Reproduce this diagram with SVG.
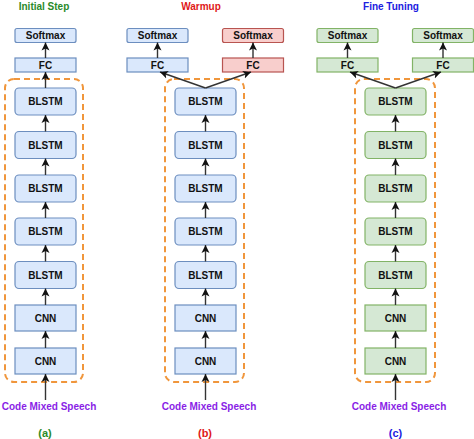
<svg xmlns="http://www.w3.org/2000/svg" width="474" height="439" viewBox="0 0 474 439">
<defs>
<marker id="ah" markerWidth="9" markerHeight="9" refX="8" refY="4.5" orient="auto" markerUnits="userSpaceOnUse">
<path d="M0,0.5 L8,4.5 L0,8.5 L2,4.5 Z" fill="#111"/>
</marker>
<style>
text{font-family:"Liberation Sans",Arial,sans-serif;font-weight:bold;text-anchor:middle}
.lbl{font-size:10px;fill:#111}
.b{fill:#dae8fc;stroke:#6c8ebf;stroke-width:1.2}
.r{fill:#f8cecc;stroke:#b85450;stroke-width:1.2}
.g{fill:#d5e8d4;stroke:#82b366;stroke-width:1.2}
.dash{fill:none;stroke:#f0963c;stroke-width:2;stroke-dasharray:6,4}
.c line{stroke:#333;stroke-width:1.4;marker-end:url(#ah)}
.t{font-size:10px}
</style>
</defs>
<rect width="474" height="439" fill="#fff"/>

<!-- titles -->
<text x="44" y="10" class="t" fill="#2a8a2a">Initial Step</text>
<text x="201" y="10" class="t" fill="#e01818">Warmup</text>
<text x="391" y="10" class="t" fill="#2020e0">Fine Tuning</text>

<!-- containers -->
<rect id="container-a" class="dash" x="5" y="79" width="78" height="303" rx="9"/>
<rect id="container-b" class="dash" x="165" y="79" width="79" height="303" rx="9"/>
<rect id="container-c" class="dash" x="355" y="79" width="80" height="303" rx="9"/>

<!-- Panel a -->
<g id="a-softmax"><rect class="b" x="15" y="28.5" width="61" height="14" rx="2"/><text class="lbl" x="45.5" y="39.3">Softmax</text></g>
<g id="a-fc"><rect class="b" x="15" y="58" width="61" height="14"/><text class="lbl" x="45.5" y="68.8">FC</text></g>
<g id="a-blstm1"><rect class="b" x="15" y="88" width="61" height="27" rx="4"/><text class="lbl" x="45.5" y="105">BLSTM</text></g>
<g id="a-blstm2"><rect class="b" x="15" y="131.5" width="61" height="27" rx="4"/><text class="lbl" x="45.5" y="148.5">BLSTM</text></g>
<g id="a-blstm3"><rect class="b" x="15" y="175" width="61" height="27" rx="4"/><text class="lbl" x="45.5" y="192">BLSTM</text></g>
<g id="a-blstm4"><rect class="b" x="15" y="218" width="61" height="27" rx="4"/><text class="lbl" x="45.5" y="235">BLSTM</text></g>
<g id="a-blstm5"><rect class="b" x="15" y="261.5" width="61" height="27" rx="4"/><text class="lbl" x="45.5" y="278.5">BLSTM</text></g>
<g id="a-cnn1"><rect class="b" x="15" y="305" width="61" height="26"/><text class="lbl" x="45.5" y="321.5">CNN</text></g>
<g id="a-cnn2"><rect class="b" x="15" y="348" width="61" height="26"/><text class="lbl" x="45.5" y="364.5">CNN</text></g>

<!-- Panel b -->
<g id="b-softmax1"><rect class="b" x="127" y="28.5" width="61" height="14" rx="2"/><text class="lbl" x="157.5" y="39.3">Softmax</text></g>
<g id="b-fc1"><rect class="b" x="127" y="58" width="61" height="14"/><text class="lbl" x="157.5" y="68.8">FC</text></g>
<g id="b-softmax2"><rect class="r" x="222.5" y="28.5" width="61" height="14" rx="2"/><text class="lbl" x="253" y="39.3">Softmax</text></g>
<g id="b-fc2"><rect class="r" x="222.5" y="58" width="61" height="14"/><text class="lbl" x="253" y="68.8">FC</text></g>
<g id="b-blstm1"><rect class="b" x="175" y="88" width="61" height="27" rx="4"/><text class="lbl" x="205.5" y="105">BLSTM</text></g>
<g id="b-blstm2"><rect class="b" x="175" y="131.5" width="61" height="27" rx="4"/><text class="lbl" x="205.5" y="148.5">BLSTM</text></g>
<g id="b-blstm3"><rect class="b" x="175" y="175" width="61" height="27" rx="4"/><text class="lbl" x="205.5" y="192">BLSTM</text></g>
<g id="b-blstm4"><rect class="b" x="175" y="218" width="61" height="27" rx="4"/><text class="lbl" x="205.5" y="235">BLSTM</text></g>
<g id="b-blstm5"><rect class="b" x="175" y="261.5" width="61" height="27" rx="4"/><text class="lbl" x="205.5" y="278.5">BLSTM</text></g>
<g id="b-cnn1"><rect class="b" x="175" y="305" width="61" height="26"/><text class="lbl" x="205.5" y="321.5">CNN</text></g>
<g id="b-cnn2"><rect class="b" x="175" y="348" width="61" height="26"/><text class="lbl" x="205.5" y="364.5">CNN</text></g>

<!-- Panel c -->
<g id="c-softmax1"><rect class="g" x="317" y="28.5" width="61" height="14" rx="2"/><text class="lbl" x="347.5" y="39.3">Softmax</text></g>
<g id="c-fc1"><rect class="g" x="317" y="58" width="61" height="14"/><text class="lbl" x="347.5" y="68.8">FC</text></g>
<g id="c-softmax2"><rect class="g" x="412.5" y="28.5" width="61" height="14" rx="2"/><text class="lbl" x="443" y="39.3">Softmax</text></g>
<g id="c-fc2"><rect class="g" x="412.5" y="58" width="61" height="14"/><text class="lbl" x="443" y="68.8">FC</text></g>
<g id="c-blstm1"><rect class="g" x="365" y="88" width="61" height="27" rx="4"/><text class="lbl" x="395.5" y="105">BLSTM</text></g>
<g id="c-blstm2"><rect class="g" x="365" y="131.5" width="61" height="27" rx="4"/><text class="lbl" x="395.5" y="148.5">BLSTM</text></g>
<g id="c-blstm3"><rect class="g" x="365" y="175" width="61" height="27" rx="4"/><text class="lbl" x="395.5" y="192">BLSTM</text></g>
<g id="c-blstm4"><rect class="g" x="365" y="218" width="61" height="27" rx="4"/><text class="lbl" x="395.5" y="235">BLSTM</text></g>
<g id="c-blstm5"><rect class="g" x="365" y="261.5" width="61" height="27" rx="4"/><text class="lbl" x="395.5" y="278.5">BLSTM</text></g>
<g id="c-cnn1"><rect class="g" x="365" y="305" width="61" height="26"/><text class="lbl" x="395.5" y="321.5">CNN</text></g>
<g id="c-cnn2"><rect class="g" x="365" y="348" width="61" height="26"/><text class="lbl" x="395.5" y="364.5">CNN</text></g>

<!-- connectors -->
<g class="c" id="connectors">
<line x1="45.5" y1="400" x2="45.5" y2="374"/>
<line x1="45.5" y1="348" x2="45.5" y2="331"/>
<line x1="45.5" y1="305" x2="45.5" y2="288.5"/>
<line x1="45.5" y1="261.5" x2="45.5" y2="245"/>
<line x1="45.5" y1="218" x2="45.5" y2="202"/>
<line x1="45.5" y1="175" x2="45.5" y2="158.5"/>
<line x1="45.5" y1="131.5" x2="45.5" y2="115"/>
<line x1="45.5" y1="88" x2="45.5" y2="72"/>
<line x1="45.5" y1="58" x2="45.5" y2="42.5"/>

<line x1="205.5" y1="400" x2="205.5" y2="374"/>
<line x1="205.5" y1="348" x2="205.5" y2="331"/>
<line x1="205.5" y1="305" x2="205.5" y2="288.5"/>
<line x1="205.5" y1="261.5" x2="205.5" y2="245"/>
<line x1="205.5" y1="218" x2="205.5" y2="202"/>
<line x1="205.5" y1="175" x2="205.5" y2="158.5"/>
<line x1="205.5" y1="131.5" x2="205.5" y2="115"/>
<line x1="205.5" y1="88" x2="160" y2="72"/>
<line x1="205.5" y1="88" x2="251" y2="72"/>
<line x1="157.5" y1="58" x2="157.5" y2="42.5"/>
<line x1="253" y1="58" x2="253" y2="42.5"/>

<line x1="395.5" y1="400" x2="395.5" y2="374"/>
<line x1="395.5" y1="348" x2="395.5" y2="331"/>
<line x1="395.5" y1="305" x2="395.5" y2="288.5"/>
<line x1="395.5" y1="261.5" x2="395.5" y2="245"/>
<line x1="395.5" y1="218" x2="395.5" y2="202"/>
<line x1="395.5" y1="175" x2="395.5" y2="158.5"/>
<line x1="395.5" y1="131.5" x2="395.5" y2="115"/>
<line x1="395.5" y1="88" x2="350" y2="72"/>
<line x1="395.5" y1="88" x2="441" y2="72"/>
<line x1="347.5" y1="58" x2="347.5" y2="42.5"/>
<line x1="443" y1="58" x2="443" y2="42.5"/>
</g>

<!-- input labels -->
<text x="49" y="410" class="t" fill="#8a1ee6">Code Mixed Speech</text>
<text x="209" y="410" class="t" fill="#8a1ee6">Code Mixed Speech</text>
<text x="399" y="410" class="t" fill="#8a1ee6">Code Mixed Speech</text>

<!-- captions -->
<text x="45" y="437" style="font-size:11px" fill="#2a8a2a">(a)</text>
<text x="205" y="437" style="font-size:11px" fill="#e01818">(b)</text>
<text x="395.5" y="437" style="font-size:11px" fill="#2020e0">(c)</text>
</svg>
